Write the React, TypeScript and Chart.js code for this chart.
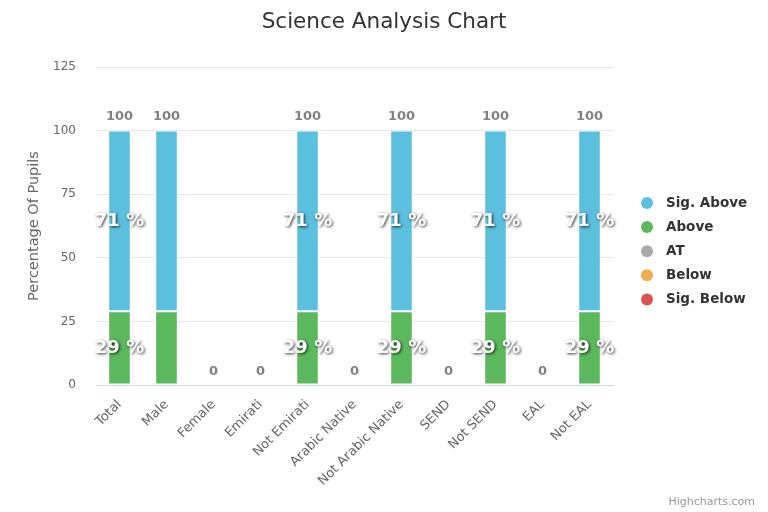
import React, { useEffect, useRef } from "react";
import { Chart, registerables } from "chart.js";

Chart.register(...registerables);

// Pupil groups along the x axis
const categories = [
  "Total",
  "Male",
  "Female",
  "Emirati",
  "Not Emirati",
  "Arabic Native",
  "Not Arabic Native",
  "SEND",
  "Not SEND",
  "EAL",
  "Not EAL",
];

// Percentage of pupils per attainment band
const sigAbove = [71, 71, 0, 0, 71, 0, 71, 0, 71, 0, 71];
const above = [29, 29, 0, 0, 29, 0, 29, 0, 29, 0, 29];
const atExpected = [0, 0, 0, 0, 0, 0, 0, 0, 0, 0, 0];
const below = [0, 0, 0, 0, 0, 0, 0, 0, 0, 0, 0];
const sigBelow = [0, 0, 0, 0, 0, 0, 0, 0, 0, 0, 0];

// Series in legend order (top of stack first)
const seriesNames = ["Sig. Above", "Above", "AT", "Below", "Sig. Below"];
const seriesColors = ["#5bc0de", "#5cb85c", "#aaaaaa", "#f0ad4e", "#d9534f"];
const seriesValues = [sigAbove, above, atExpected, below, sigBelow];

const yMax = 125;
const yStep = 25;

const FONT = "'DejaVu Sans', Verdana, sans-serif";

const overlayPlugin = {
  id: "overlay",
  afterDatasetsDraw(chart: any) {
    const ctx = chart.ctx;
    const yScale = chart.scales.y;
    const n = chart.data.labels.length;

    // Labels inside each segment, hiding ones that collide with earlier labels
    ctx.save();
    ctx.font = `bold 18px ${FONT}`;
    ctx.textAlign = "center";
    ctx.textBaseline = "middle";
    const placed: { l: number; r: number; t: number; b: number }[] = [];
    const pad = 3;
    for (let i = 0; i < n; i++) {
      chart.data.datasets.forEach((ds: any, di: number) => {
        const v = ds.data[i];
        if (!v) return;
        const bar = chart.getDatasetMeta(di).data[i];
        const text = `${v} %`;
        const w = ctx.measureText(text).width;
        const cy = (bar.y + bar.base) / 2;
        const box = { l: bar.x - w / 2 - pad, r: bar.x + w / 2 + pad, t: cy - 11, b: cy + 11 };
        const hit = placed.some((p) => box.l < p.r && box.r > p.l && box.t < p.b && box.b > p.t);
        if (hit) return;
        placed.push(box);
        ctx.shadowColor = "rgba(0,0,0,0.8)";
        ctx.shadowBlur = 3;
        ctx.shadowOffsetX = 1;
        ctx.shadowOffsetY = 1;
        ctx.fillStyle = "#ffffff";
        ctx.fillText(text, bar.x, cy);
      });
    }
    ctx.restore();

    // Stack totals above each column
    ctx.save();
    ctx.font = `bold 13px ${FONT}`;
    ctx.textAlign = "center";
    ctx.textBaseline = "alphabetic";
    ctx.fillStyle = "#808080";
    for (let i = 0; i < n; i++) {
      let total = 0;
      chart.data.datasets.forEach((ds: any) => (total += ds.data[i] || 0));
      const x = chart.getDatasetMeta(0).data[i].x;
      ctx.fillText(String(total), x, yScale.getPixelForValue(total) - 10.5);
    }
    ctx.restore();
  },
  afterDraw(chart: any) {
    const ctx = chart.ctx;
    ctx.save();
    // Title
    ctx.font = `21.5px ${FONT}`;
    ctx.fillStyle = "#333333";
    ctx.textAlign = "center";
    ctx.textBaseline = "middle";
    ctx.fillText("Science Analysis Chart", 384, 22.5);

    // Legend
    ctx.font = `bold 13.5px ${FONT}`;
    ctx.textAlign = "left";
    ctx.textBaseline = "middle";
    seriesNames.forEach((name, i) => {
      const y = 203 + i * 24.1;
      ctx.beginPath();
      ctx.arc(647, y, 6, 0, Math.PI * 2);
      ctx.fillStyle = seriesColors[i];
      ctx.fill();
      ctx.fillStyle = "#333333";
      ctx.fillText(name, 666, y + 0.5);
    });

    // Credits
    ctx.font = `11px ${FONT}`;
    ctx.fillStyle = "#999999";
    ctx.textAlign = "right";
    ctx.textBaseline = "alphabetic";
    ctx.fillText("Highcharts.com", 755, 505);
    ctx.restore();
  },
};

export default function App() {
  const canvasRef = useRef<HTMLCanvasElement | null>(null);

  useEffect(() => {
    document.body.style.margin = "0";
    const canvas = canvasRef.current;
    if (!canvas) return;

    // Chart.js stacks the first dataset at the bottom, so feed the series reversed
    const order = [4, 3, 2, 1, 0];
    const datasets = order.map((k) => ({
      label: seriesNames[k],
      data: seriesValues[k],
      backgroundColor: seriesColors[k],
      borderColor: "#ffffff",
      borderWidth: (c: any) => (c.raw ? 1 : 0),
      borderSkipped: false as const,
      barPercentage: 0.8,
      categoryPercentage: 0.6,
    }));

    const chart = new Chart(canvas, {
      type: "bar",
      data: { labels: categories, datasets },
      options: {
        responsive: false,
        animation: false,
        devicePixelRatio: 1,
        layout: { padding: { top: 67, right: 155, bottom: 0, left: 0 } },
        plugins: {
          legend: { display: false },
          title: { display: false },
          tooltip: { enabled: false },
        },
        scales: {
          x: {
            stacked: true,
            grid: { display: false },
            border: { display: true, color: "#ccd6eb", width: 1 },
            ticks: {
              color: "#666666",
              font: { family: FONT, size: 13 },
              minRotation: 45,
              maxRotation: 45,
              padding: 4,
            },
            afterFit: (s: any) => {
              s.height = 127;
            },
          },
          y: {
            stacked: true,
            min: 0,
            max: yMax,
            grid: { color: "#e6e6e6", drawTicks: false },
            border: { display: false },
            ticks: {
              stepSize: yStep,
              color: "#666666",
              font: { family: FONT, size: 12 },
              padding: 20,
            },
            title: {
              display: true,
              text: "Percentage Of Pupils",
              color: "#666666",
              font: { family: FONT, size: 14.5 },
              padding: { top: 26, bottom: 0 },
            },
            afterFit: (s: any) => {
              s.width = 96;
            },
          },
        },
      },
      plugins: [overlayPlugin],
    });

    return () => chart.destroy();
  }, []);

  return (
    <div style={{ width: 768, height: 512 }}>
      <canvas ref={canvasRef} width={768} height={512} />
    </div>
  );
}
